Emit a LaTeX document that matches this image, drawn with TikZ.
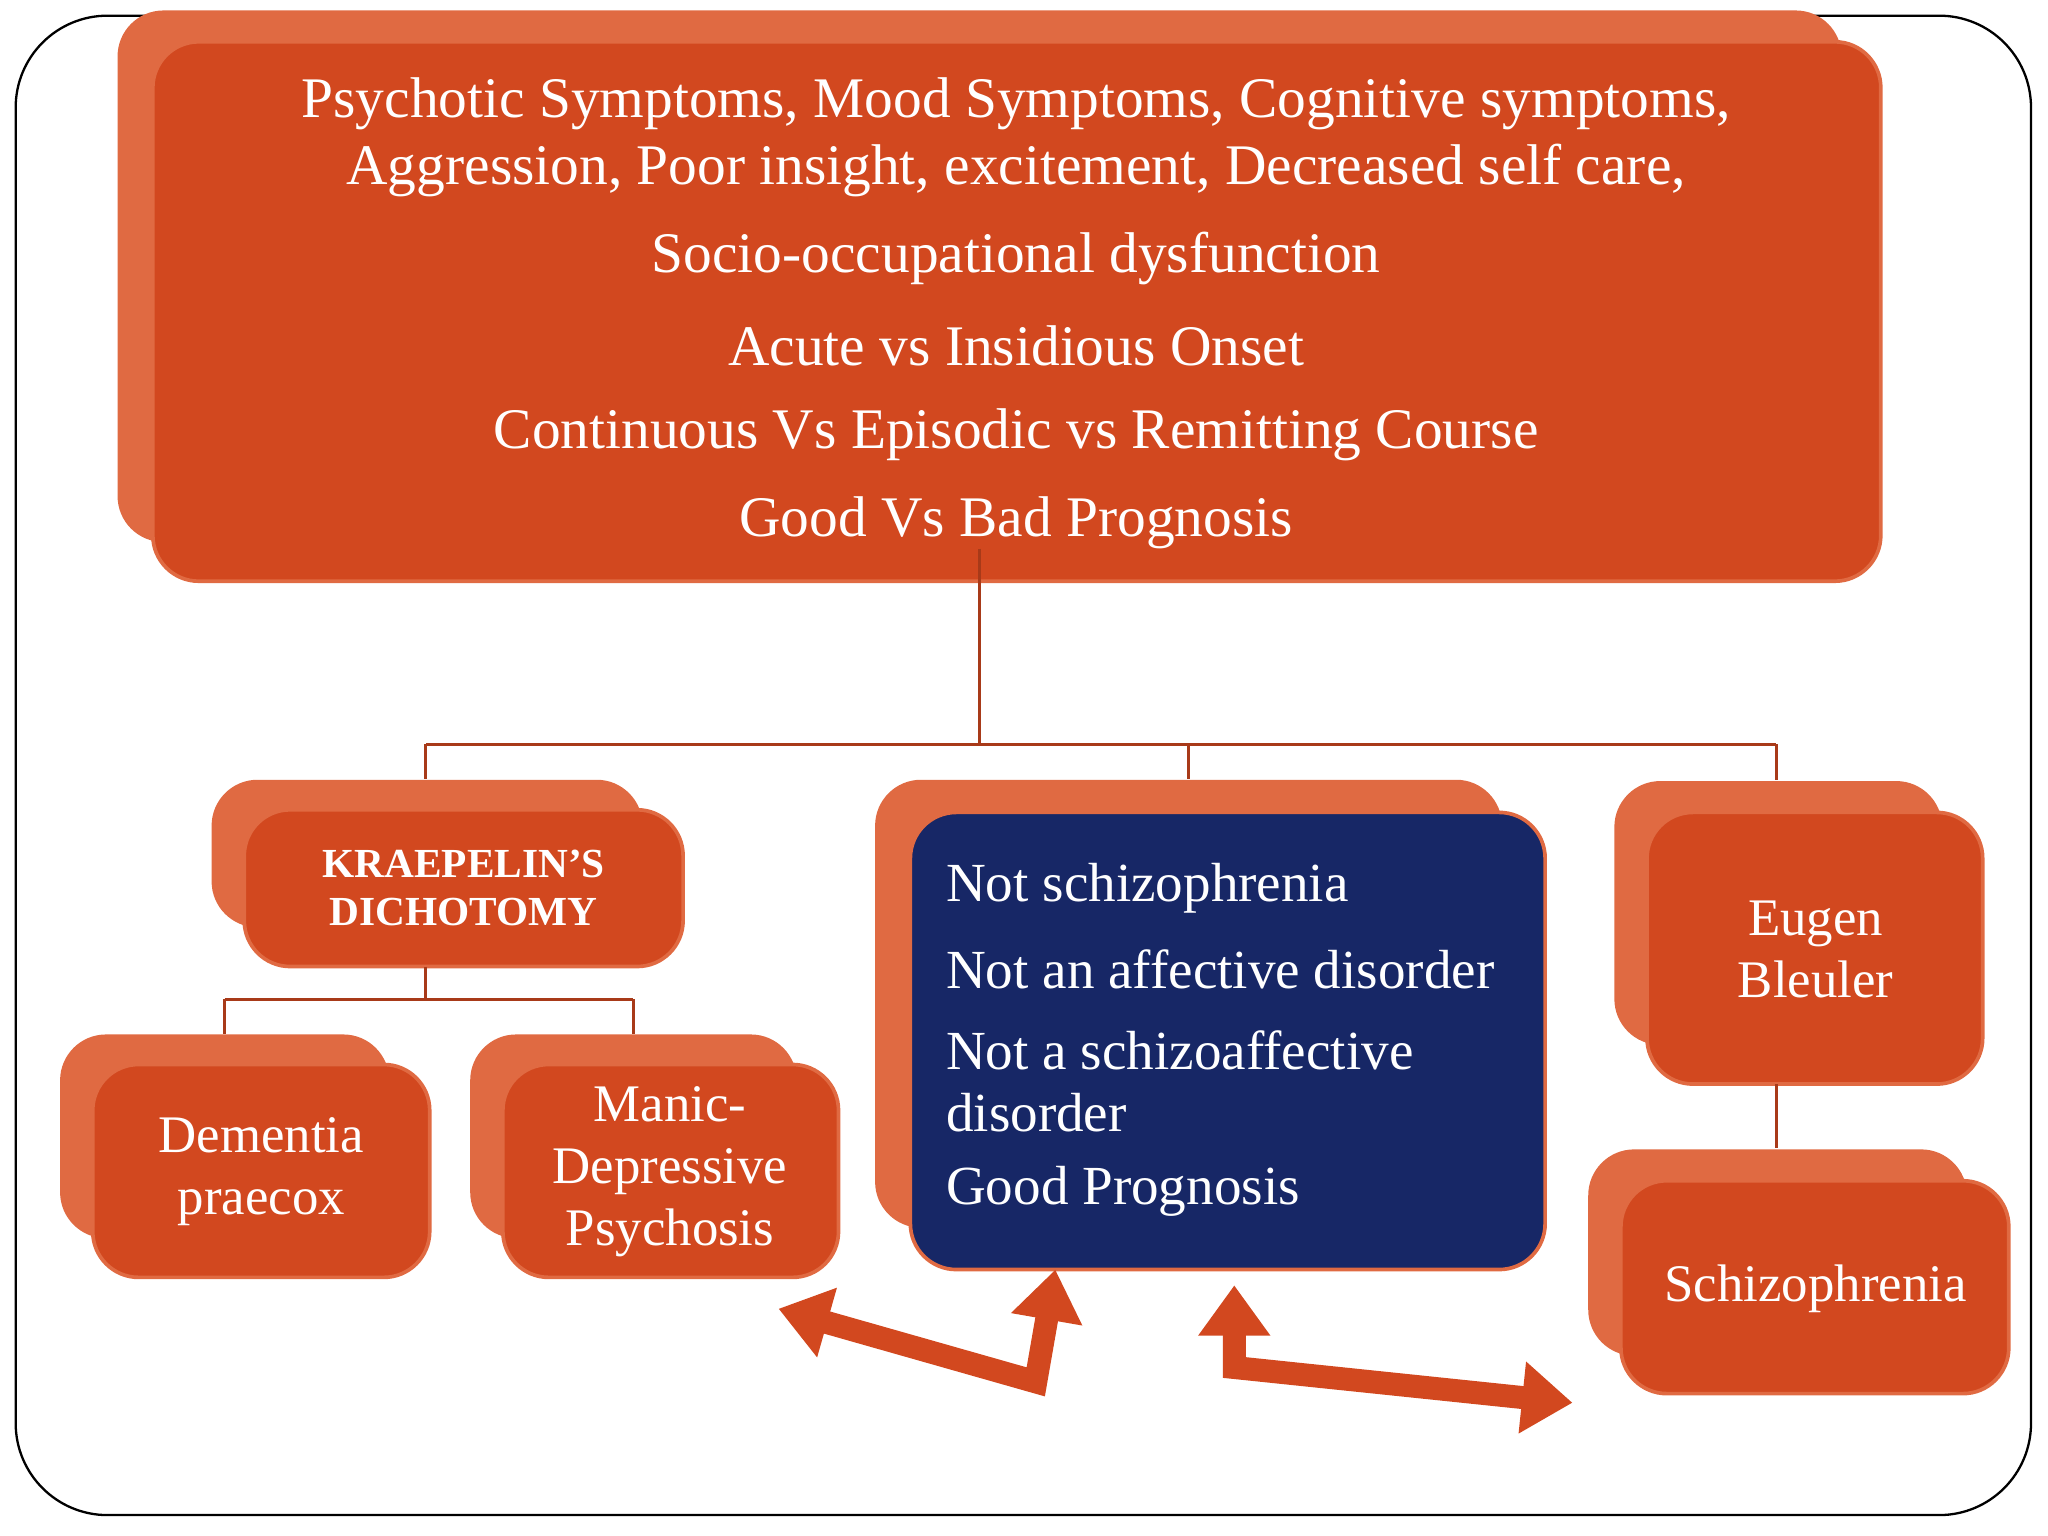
\documentclass[tikz,border=0pt]{standalone}
\usepackage{fontspec}
\setmainfont{Liberation Serif}
\usetikzlibrary{fit,arrows.meta}
\definecolor{org}{HTML}{D2481F}
\definecolor{orgl}{HTML}{E06A42}
\definecolor{blu}{HTML}{172766}
\begin{document}
\begin{tikzpicture}[x=0.01cm,y=-0.01cm,
 back/.style={fit={#1},inner sep=0,fill=orgl,rounded corners=10pt,draw=none},
 front/.style={fit={#1},inner sep=0,fill=org,draw=orgl,line width=0.8pt,rounded corners=10pt},
 lbl/.style={text=white,align=center,font=\fontsize{11.5}{13.5}\selectfont},
 conn/.style={draw=org!80!black,line width=0.6pt},
 barrow/.style={draw=org,line width=5pt,{Triangle[width=15pt,length=11pt]}-{Triangle[width=15pt,length=11pt]}}]
\useasboundingbox (0,0) rectangle (1568,1176);
\draw[line width=0.5pt,rounded corners=20pt] (12,12) rectangle (1555,1160);
% top
\node[back={(90,8)(1410,415)}] (topb) {};
\node[front={(117,32)(1440,445)}] (top) {};
\node[lbl,font=\fontsize{12.5}{14.5}\selectfont] (t1) at (778,105) {Psychotic Symptoms, Mood Symptoms, Cognitive symptoms,\\Aggression, Poor insight, excitement, Decreased self care,};
\node[lbl,font=\fontsize{12.5}{14.5}\selectfont] (t2) at (778,198) {Socio-occupational dysfunction};
\node[lbl,font=\fontsize{12.5}{14.5}\selectfont] (t3) at (778,265) {Acute vs Insidious Onset};
\node[lbl,font=\fontsize{12.5}{14.5}\selectfont] (t4) at (778,333) {Continuous Vs Episodic vs Remitting Course};
\node[lbl,font=\fontsize{12.5}{14.5}\selectfont] (t5) at (778,400) {Good Vs Bad Prognosis};
% kraepelin
\node[back={(162,597)(492,710)}] (kb) {};
\node[front={(187,620)(523,740)}] (k) {};
\node[lbl,font=\bfseries\fontsize{9}{10.5}\selectfont] at (355,680) {KRAEPELIN'S\\DICHOTOMY};
% dementia
\node[back={(46,792)(298,948)}] (db) {};
\node[front={(71,815)(329,978)}] (d) {};
\node[lbl] at (200,897) {Dementia\\praecox};
% manic
\node[back={(360,792)(610,948)}] (mb) {};
\node[front={(385,815)(642,978)}] (m) {};
\node[lbl] at (513,897) {Manic-\\Depressive\\Psychosis};
% blue
\node[back={(670,597)(1150,940)}] (bb) {};
\node[front={(697,622)(1183,972)},fill=blu] (b) {};
\node[text=white,anchor=west,font=\fontsize{12}{14}\selectfont] at (712,680) {Not schizophrenia};
\node[text=white,anchor=west,font=\fontsize{12}{14}\selectfont] at (712,742) {Not an affective disorder};
\node[text=white,anchor=west,align=left,font=\fontsize{12}{13.5}\selectfont] at (712,828) {Not a schizoaffective\\disorder};
\node[text=white,anchor=west,font=\fontsize{12}{14}\selectfont] at (712,912) {Good Prognosis};
% eugen
\node[back={(1236,598)(1487,800)}] (eb) {};
\node[front={(1261,622)(1518,830)}] (e) {};
\node[lbl] at (1390,727) {Eugen\\Bleuler};
% schizophrenia
\node[back={(1216,880)(1506,1038)}] (sb) {};
\node[front={(1241,904)(1538,1067)}] (s) {};
\node[lbl] at (1390,987) {Schizophrenia};
% connectors
\coordinate (j1) at (750,570);
\draw[conn] (750,420) -- (j1);
\draw[conn] (326,570) -- (1360,570);
\draw[conn] (326,570) -- (kb.north -| 326,0);
\draw[conn] (910,570) -- (bb.north -| 910,0);
\draw[conn] (1360,570) -- (eb.north -| 1360,0);
\draw[conn] (326,740) -- (326,765) (172,765) -- (485,765);
\draw[conn] (172,765) -- (db.north -| 172,0);
\draw[conn] (485,765) -- (mb.north -| 485,0);
\draw[conn] (1360,830) -- (sb.north -| 1360,0);
% block arrows
\draw[barrow] (596,1002) -- (793,1058) -- (808,972);
\draw[barrow] (945,984) -- (945,1047) -- (1204,1074);
\end{tikzpicture}
\end{document}
